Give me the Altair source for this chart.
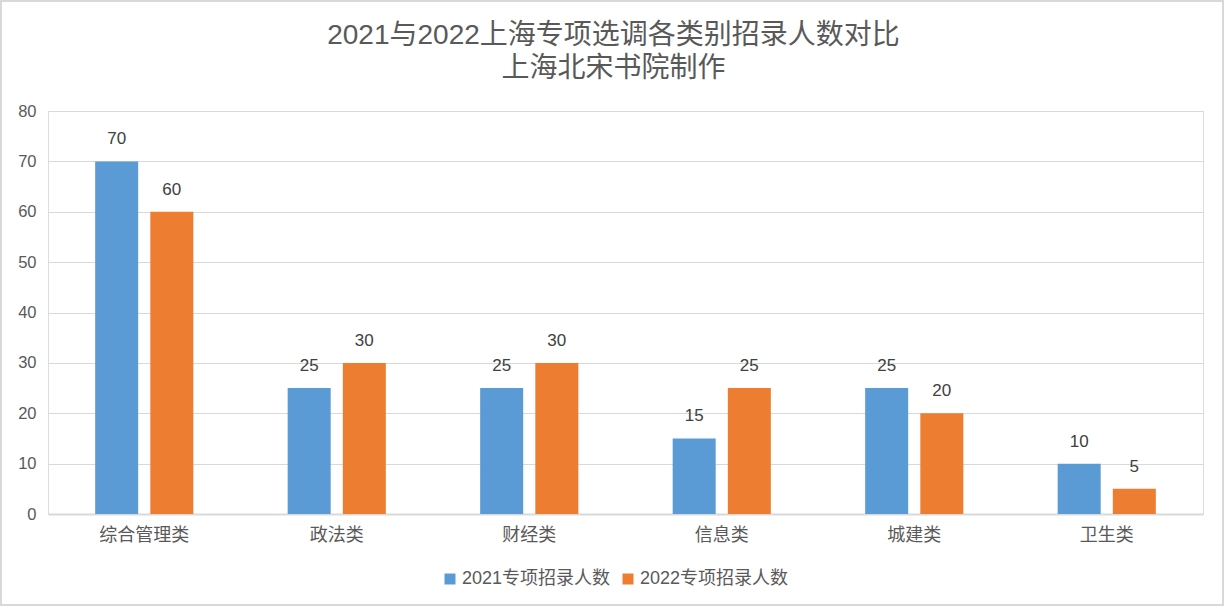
import altair as alt
import pandas as pd

categories = ["综合管理类", "政法类", "财经类", "信息类", "城建类", "卫生类"]
series_names = ["2021专项招录人数", "2022专项招录人数"]
values_2021 = [70, 25, 25, 15, 25, 10]
values_2022 = [60, 30, 30, 25, 20, 5]
colors = ["#5B9BD5", "#ED7D31"]
title_lines = ["2021与2022上海专项选调各类别招录人数对比", "上海北宋书院制作"]

rows = []
for cat, a, b in zip(categories, values_2021, values_2022):
    rows.append({"类别": cat, "系列": series_names[0], "人数": a})
    rows.append({"类别": cat, "系列": series_names[1], "人数": b})
df = pd.DataFrame(rows)

FONT = "Liberation Sans, Noto Sans CJK SC, sans-serif"
W, H = 1155, 403
PAD = {"left": 48, "top": 111, "right": 23, "bottom": 94}

x_enc = alt.X("类别:N", sort=categories, title=None,
              scale=alt.Scale(paddingInner=0.49, paddingOuter=0.245),
              axis=alt.Axis(labelAngle=0, labelFontSize=18, labelColor="#595959",
                            labelPadding=12, ticks=False, domainColor="#d9d9d9",
                            domainWidth=2, labelFont=FONT))
xoff = alt.XOffset("系列:N", sort=series_names,
                   scale=alt.Scale(paddingInner=0.22, paddingOuter=0))
y_enc = alt.Y("人数:Q", title=None,
              scale=alt.Scale(domain=[0, 80]),
              axis=alt.Axis(values=list(range(0, 81, 10)), labelFontSize=16.5,
                            labelColor="#595959", labelPadding=12, ticks=False,
                            domain=False, gridColor="#d9d9d9", gridWidth=1.2,
                            labelFont=FONT))

bars = alt.Chart(df).mark_bar().encode(
    x=x_enc, xOffset=xoff, y=y_enc,
    color=alt.Color("系列:N", sort=series_names,
                    scale=alt.Scale(domain=series_names, range=colors),
                    legend=alt.Legend(title=None, orient="none", direction="horizontal",
                                      legendX=393, legendY=459,
                                      symbolType="square", symbolSize=121,
                                      labelFontSize=18, labelColor="#595959",
                                      labelFont=FONT, columnPadding=8, labelOffset=3,
                                      symbolStrokeWidth=0)),
)

labels = alt.Chart(df).mark_text(dy=-22, fontSize=17, color="#404040", font=FONT).encode(
    x=alt.X("类别:N", sort=categories), xOffset=alt.XOffset("系列:N", sort=series_names),
    y="人数:Q", text="人数:Q",
)

# light grey border around the whole figure
frame = alt.Chart(alt.Data(values=[{}])).mark_rect(
    fill=None, stroke="#d9d9d9", strokeWidth=2, clip=False
).encode(
    x=alt.value(-PAD["left"] + 1), x2=alt.value(W + PAD["right"] - 3),
    y=alt.value(-PAD["top"] + 1), y2=alt.value(H + PAD["bottom"] - 3),
)

chart = alt.layer(bars, labels, frame).properties(
    width=W, height=H,
    autosize=alt.AutoSizeParams(type="none"),
    padding=PAD,
    title=alt.TitleParams(title_lines, anchor="middle", fontSize=28, fontWeight="normal",
                          color="#595959", font=FONT, lineHeight=33, offset=0, dy=83,
                          dx=-12),
).configure_view(stroke=None).configure(background="white")

chart.save("out.html", embed_options={"renderer": "svg", "actions": False})
